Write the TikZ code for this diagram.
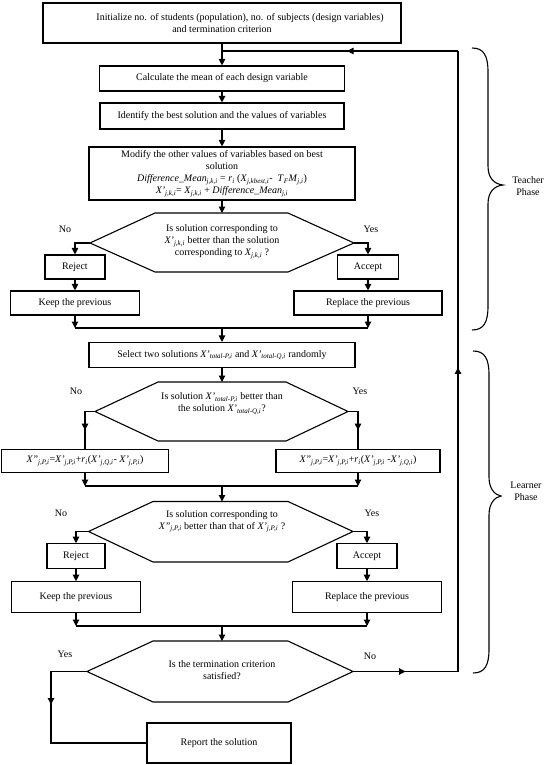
\documentclass[tikz,border=0pt]{standalone}
\usepackage{fontspec}
\setmainfont{Liberation Serif}
\usetikzlibrary{arrows.meta,decorations.markings}
\newcommand\mysub[1]{\textsubscript{\textit{#1}}}
\begin{document}
\begin{tikzpicture}[x=1pt,y=-1pt,
  font=\fontsize{10}{12}\selectfont,
  box/.style={draw, line width=1.1pt, inner sep=1pt, align=center},
  ln/.style={line width=1.1pt},
  arr/.style={ln, -{Triangle[length=6.5pt,width=6.5pt]}},
  midarr/.style={ln, postaction={decorate}, decoration={markings, mark=at position #1 with {\arrow{Triangle[length=6.5pt,width=6.5pt]}}}},
  lbl/.style={inner sep=0pt, align=center}]
\useasboundingbox (0,0) rectangle (545,765);

% boxes
\node[box, minimum width=358pt, minimum height=40pt] (init) at (222,23) {\hspace*{36pt}Initialize no. of students (population), no. of  subjects (design variables)\\and termination criterion};
\node[box, minimum width=245pt, minimum height=25pt] (calc) at (222,78.5) {Calculate the mean of each design variable};
\node[box, minimum width=244pt, minimum height=26pt] (ident) at (222,116) {Identify the best solution and the values of variables};
\node[box, minimum width=266pt, minimum height=53pt] (modif) at (222,173.5) {Modify the other values of variables based on best\\solution\\
\textit{Difference\_Mean}\mysub{j,k,i} = \textit{r}\mysub{i} (\textit{X}\mysub{j,kbest,i}-\ \ \textit{T}\mysub{F}\textit{M}\mysub{j,i})\\
\textit{X'}\mysub{j,k,i}= \textit{X}\mysub{j,k,i} + \textit{Difference\_Mean}\mysub{j,i}};

% hexagon 1
\coordinate (h1w) at (90,243); \coordinate (h1e) at (354,243); \coordinate (h1n) at (222,213);
\draw[ln] (h1w) -- (155,213) -- (288,213) -- (h1e) -- (288,272) -- (155,272) -- cycle;
\node[lbl] (h1t) at (222,242) {Is solution corresponding to\\\textit{X'}\mysub{j,k,i} better than the solution\\corresponding to \textit{X}\mysub{j,k,i} ?};

\node[box, minimum width=60pt, minimum height=24pt] (rej1) at (75,267) {Reject};
\node[box, minimum width=129pt, minimum height=24pt] (keep1) at (75,303) {Keep the previous};
\node[box, minimum width=61pt, minimum height=24pt] (acc1) at (368,267) {Accept};
\node[box, minimum width=148pt, minimum height=24pt] (rep1) at (368,303) {Replace the previous};
\node[lbl] (no1) at (65,229) {No};
\node[lbl] (yes1) at (371,229) {Yes};

\coordinate (m1) at (222,328);
\node[box, minimum width=266pt, minimum height=25pt] (sel) at (222,355) {Select two solutions \textit{X'}\mysub{total-P,i} and \textit{X'}\mysub{total-Q,i} randomly};

% hexagon 2
\coordinate (h2w) at (95,411.5); \coordinate (h2e) at (348,411.5); \coordinate (h2n) at (222,382);
\draw[ln] (h2w) -- (158,382) -- (286,382) -- (h2e) -- (286,441) -- (158,441) -- cycle;
\node[lbl] (h2t) at (222,403.5) {Is solution \textit{X'}\mysub{total-P,i} better than\\the solution \textit{X'}\mysub{total-Q,i}?};
\node[lbl] (no2) at (76,391) {No};
\node[lbl] (yes2) at (360,391) {Yes};

\node[box, minimum width=167pt, minimum height=22.5pt] (fl) at (85,461) {\textit{X''}\mysub{j,P,i}=\textit{X'}\mysub{j,P,i}+\textit{r}\mysub{i}(\textit{X'}\mysub{j,Q,i}- \textit{X'}\mysub{j,P,i})};
\node[box, minimum width=164pt, minimum height=22.5pt] (fr) at (358,461) {\textit{X''}\mysub{j,P,i}=\textit{X'}\mysub{j,P,i}+\textit{r}\mysub{i}(\textit{X'}\mysub{j,P,i} -\textit{X'}\mysub{j,Q,i})};
\coordinate (m2) at (222,486);

% hexagon 3
\coordinate (h3w) at (88.5,531.5); \coordinate (h3e) at (353,531.5); \coordinate (h3n) at (222,501.5);
\draw[ln] (h3w) -- (153,501.5) -- (288,501.5) -- (h3e) -- (288,562) -- (153,562) -- cycle;
\node[lbl] (h3t) at (222,521.5) {Is solution corresponding to\\\textit{X''}\mysub{j,P,i} better than that of \textit{X'}\mysub{j,P,i} ?};
\node[lbl] (no3) at (61,513) {No};
\node[lbl] (yes3) at (372,513) {Yes};

\node[box, minimum width=58pt, minimum height=24.5pt] (rej2) at (76,556) {Reject};
\node[box, minimum width=129pt, minimum height=30.5pt] (keep2) at (76,597) {Keep the previous};
\node[box, minimum width=60pt, minimum height=24.5pt] (acc2) at (367,556) {Accept};
\node[box, minimum width=149pt, minimum height=30.5pt] (rep2) at (367,597) {Replace the previous};
\coordinate (m3) at (222,626);

% hexagon 4
\coordinate (h4w) at (87,671.5); \coordinate (h4e) at (353,671.5); \coordinate (h4n) at (222,641);
\draw[ln] (h4w) -- (153,641) -- (288,641) -- (h4e) -- (288,702) -- (153,702) -- cycle;
\node[lbl] (h4t) at (222,670) {Is the termination criterion\\satisfied?};
\node[lbl] (yes4) at (65,654) {Yes};
\node[lbl] (no4) at (370,656) {No};

\node[box, minimum width=144pt, minimum height=40pt] (report) at (219,743) {Report the solution};

% loop coordinates
\coordinate (lt) at (458,51);
\coordinate (lb) at (458,671.5);
\coordinate (jn) at (222,51);
\coordinate (yb) at (51,671.5);
\coordinate (yc) at (51,743);

% connectors
\draw[arr] (init.south) -- (calc.north);
\draw[midarr=0.47] (lt) -- (jn);
\draw[midarr=0.5] (h4e) -- (lb);
\draw[midarr=0.49] (lb) -- (lt);
\draw[arr] (calc.south) -- (ident.north);
\draw[arr] (ident.south) -- (modif.north);
\draw[arr] (modif.south) -- (h1n);
\draw[arr] (h1w) -| (rej1.north);
\draw[arr] (h1e) -| (acc1.north);
\draw[arr] (rej1) -- (keep1);
\draw[arr] (acc1) -- (rep1);
\draw[arr] (keep1.south) -- (keep1.south |- m1);
\draw[arr] (rep1.south) -- (rep1.south |- m1);
\draw[ln] (keep1.south |- m1) -- (rep1.south |- m1);
\draw[arr] (m1) -- (sel.north);
\draw[arr] (sel.south) -- (h2n);
\draw[midarr=0.6] (h2w) -| (fl.north);
\draw[midarr=0.6] (h2e) -| (fr.north);
\draw[arr] (fl.south) -- (fl.south |- m2);
\draw[arr] (fr.south) -- (fr.south |- m2);
\draw[ln] (fl.south |- m2) -- (fr.south |- m2);
\draw[arr] (m2) -- (h3n);
\draw[arr] (h3w) -| (rej2.north);
\draw[arr] (h3e) -| (acc2.north);
\draw[arr] (rej2) -- (keep2);
\draw[arr] (acc2) -- (rep2);
\draw[arr] (keep2.south) -- (keep2.south |- m3);
\draw[arr] (rep2.south) -- (rep2.south |- m3);
\draw[ln] (keep2.south |- m3) -- (rep2.south |- m3);
\draw[arr] (m3) -- (h4n);
\draw[midarr=0.34] (h4w) -- (yb) -- (yc) -- (report.west);

% braces
\draw[ln] (472,48) .. controls (484,48) and (488,56) .. (488,72) -- (488,166) .. controls (488,178) and (494,184) .. (503,185) .. controls (494,186) and (488,192) .. (488,204) -- (488,306) .. controls (488,322) and (484,330) .. (472,330);
\draw[ln] (473,351) .. controls (485,351) and (489,359) .. (489,375) -- (489,477) .. controls (489,489) and (495,495) .. (501,496) .. controls (495,497) and (489,503) .. (489,515) -- (489,649) .. controls (489,665) and (485,673) .. (473,673);
\node[lbl] (tp) at (528,186) {Teacher\\Phase};
\node[lbl] (lp) at (526,491) {Learner\\Phase};
\end{tikzpicture}
\end{document}
